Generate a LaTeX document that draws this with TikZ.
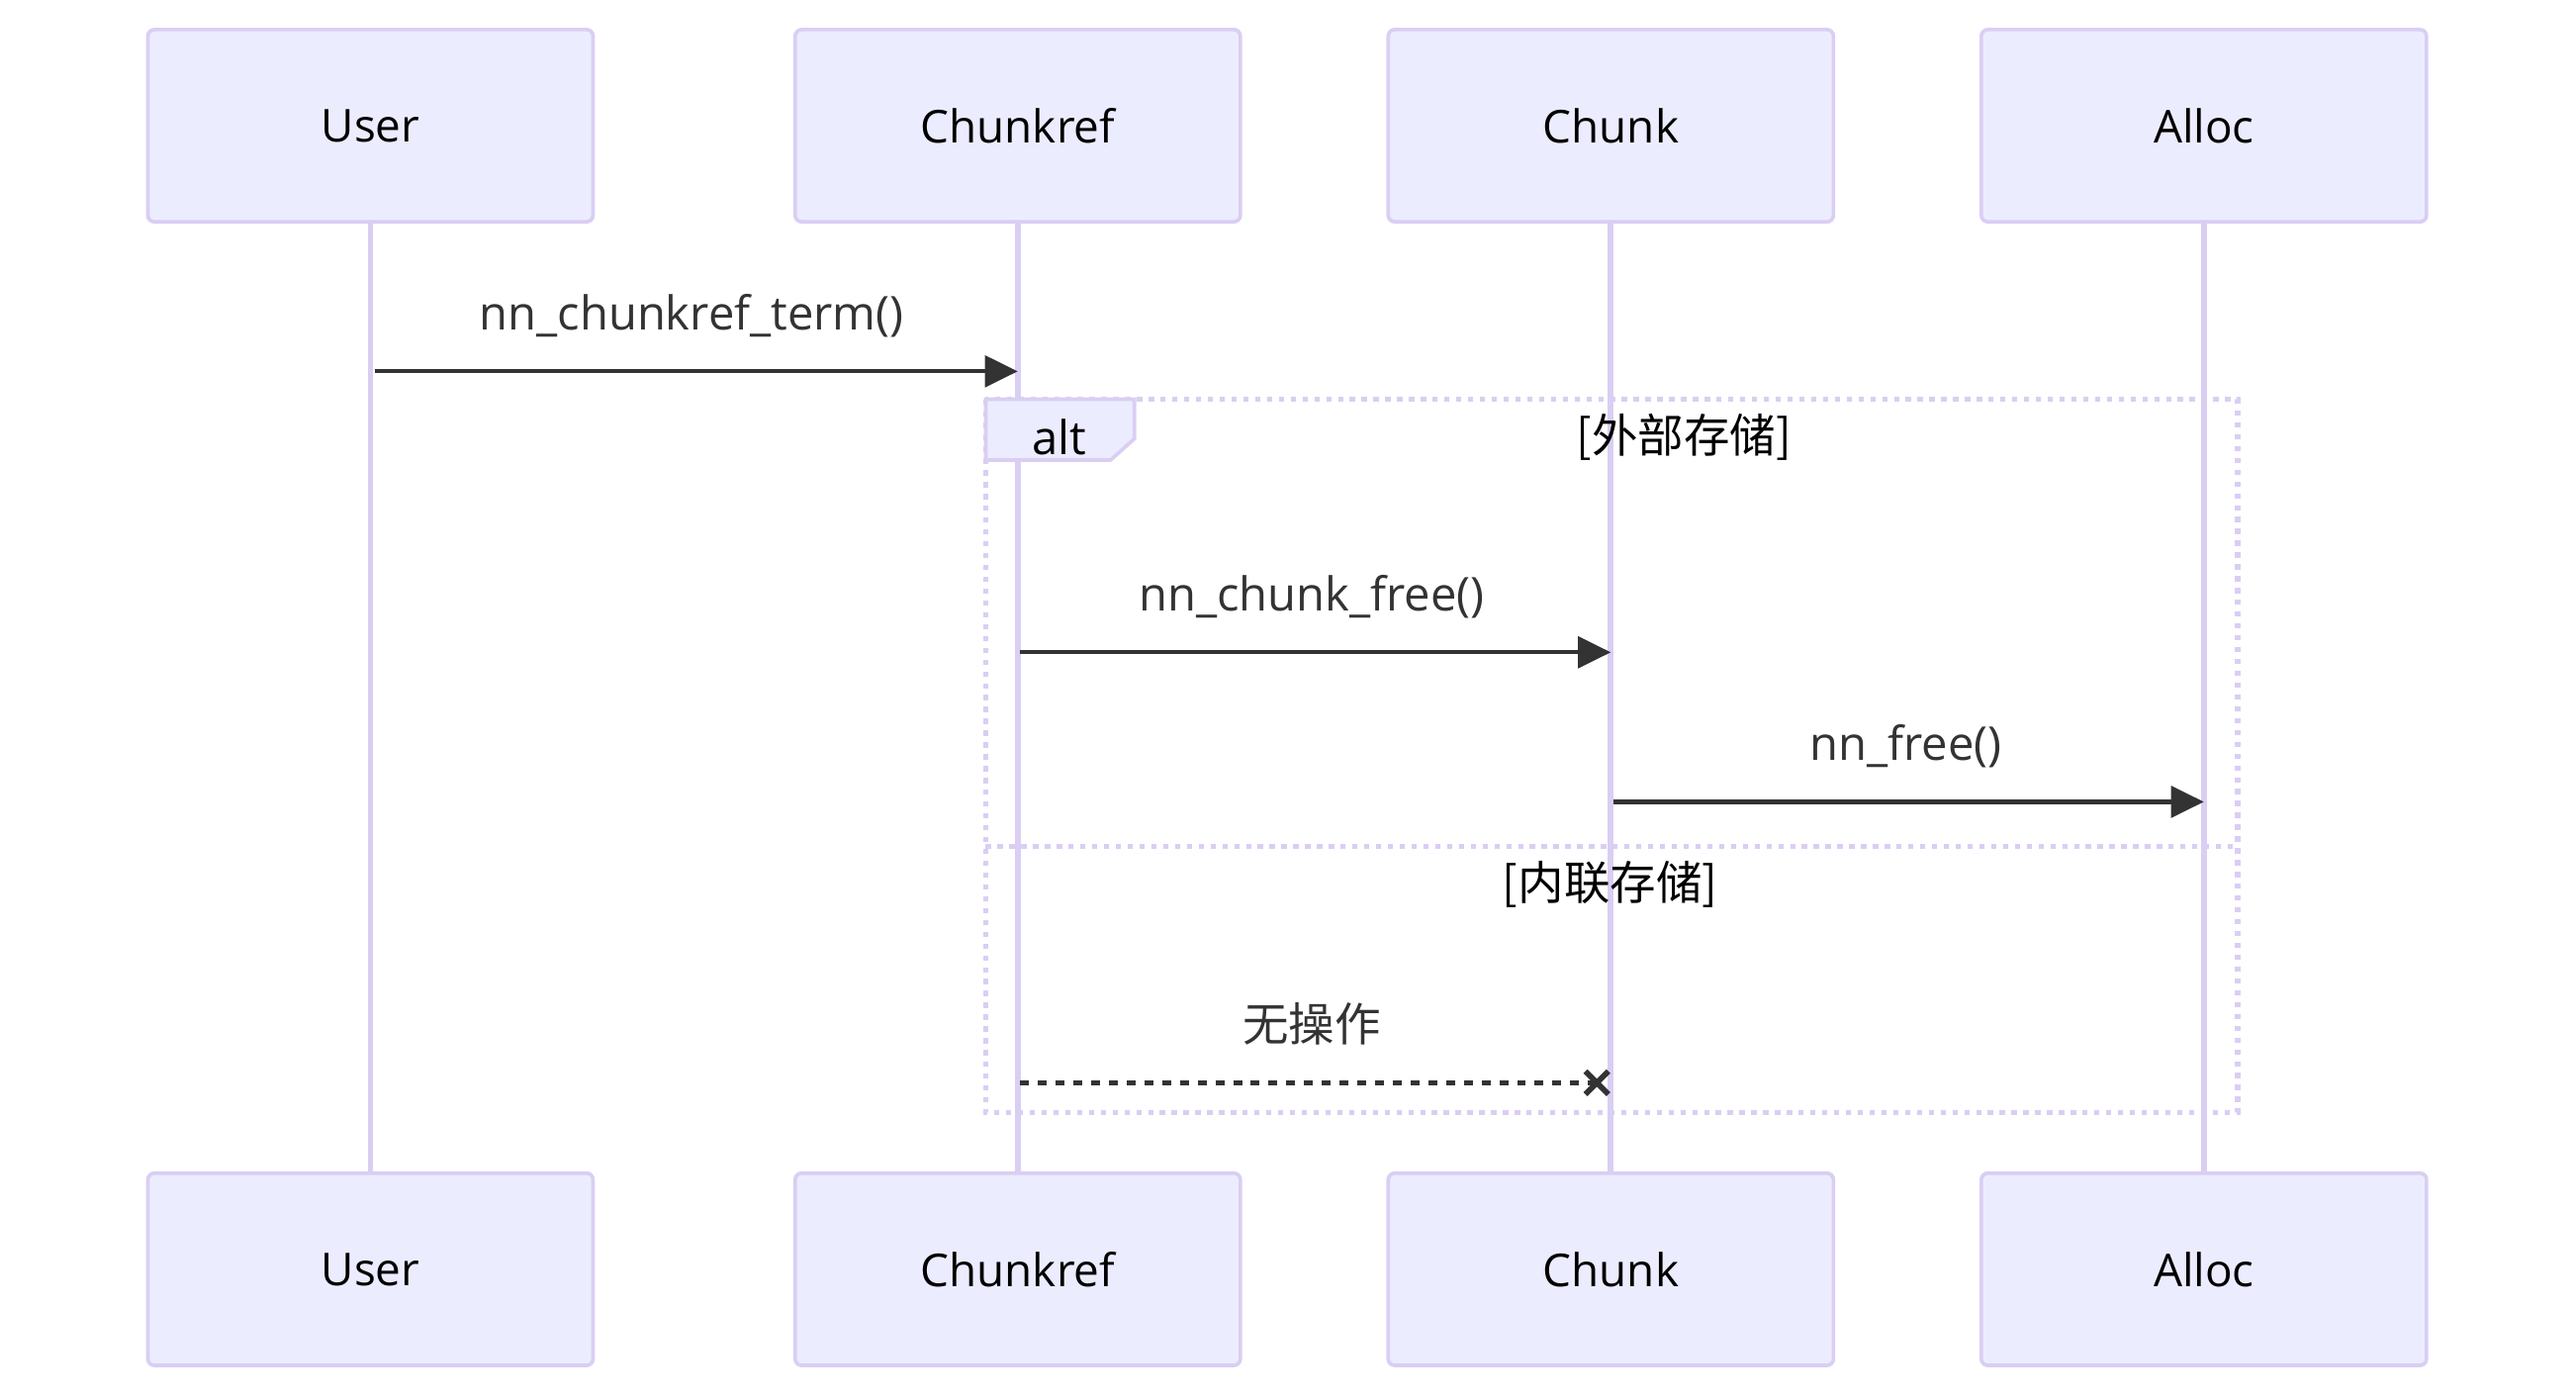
\documentclass[tikz,border=0pt]{standalone}
\usepackage{fontspec}
\setmainfont{Open Sans}
\newfontfamily\cjk{Noto Sans CJK SC}
\usetikzlibrary{arrows.meta,calc,backgrounds}
\definecolor{actfill}{HTML}{ECECFF}
\definecolor{actline}{RGB}{218,206,243}
\definecolor{msg}{HTML}{333333}
\tikzset{
  actor/.style={draw=actline, fill=actfill, line width=1.1pt, rounded corners=2pt,
    minimum width=135.5pt, minimum height=58.5pt, inner sep=0pt,
    font=\fontsize{13.8pt}{16pt}\selectfont, text=black},
  lifeline/.style={draw=actline, line width=1.8pt},
  msgarrow/.style={draw=msg, line width=1.3pt, -{Triangle[length=10pt,width=9.5pt]}},
  replyx/.style={draw=msg, line width=1.3pt, dash pattern=on 2.7pt off 2.7pt},
  msglabel/.style={font=\fontsize{14.2pt}{16pt}\selectfont, text=msg, inner sep=0pt},
  altline/.style={draw=actline, line width=1.6pt, dash pattern=on 1.6pt off 2pt},
  cond/.style={font=\cjk\fontsize{14pt}{16pt}\selectfont, text=black, inner sep=0pt},
}
\begin{document}
\begin{tikzpicture}[x=0.5pt, y=-0.5pt]
\useasboundingbox (0,0) rectangle (1568,851);
\node[actor] (ut) at (225.5,76.5) {User};
\node[actor] (ct) at (619.5,76.5) {Chunkref};
\node[actor] (kt) at (980.5,76.5) {Chunk};
\node[actor] (at) at (1341.5,76.5) {Alloc};
\node[actor] (ub) at (225.5,772.5) {User};
\node[actor] (cb) at (619.5,772.5) {Chunkref};
\node[actor] (kb) at (980.5,772.5) {Chunk};
\node[actor] (ab) at (1341.5,772.5) {Alloc};
\begin{pgfonlayer}{background}
\draw[altline] (600,243) rectangle (1362,677);
\draw[altline] (600,515) -- (1362,515);
\path[lifeline] (ut.south) -- (ub.north);
\path[lifeline] (ct.south) -- (cb.north);
\path[lifeline] (kt.south) -- (kb.north);
\path[lifeline] (at.south) -- (ab.north);
\end{pgfonlayer}
% alt label
\draw[draw=actline, fill=actfill, line width=1.1pt] (600,243) -- (690.5,243) -- (690.5,267) -- (676,280) -- (600,280) -- cycle;
\node[msglabel, text=black] (alt) at (645,266) {alt};
\node[cond] (c1) at (1025,266) {[外部存储]};
\node[cond] (c2) at (980,538) {[内联存储]};
% message coordinates
\coordinate (m1s) at (228,226);
\coordinate (m1e) at (619.5,226);
\coordinate (m2s) at (621,397);
\coordinate (m2e) at (980.5,397);
\coordinate (m3s) at (982,488);
\coordinate (m3e) at (1341.5,488);
\coordinate (m4s) at (621,659);
\coordinate (m4e) at (972,659);
\draw[msgarrow] (m1s) -- (m1e);
\node[msglabel] (l1) at (421,192) {nn\_chunkref\_term()};
\draw[msgarrow] (m2s) -- (m2e);
\node[msglabel] (l2) at (798.5,363) {nn\_chunk\_free()};
\draw[msgarrow] (m3s) -- (m3e);
\node[msglabel] (l3) at (1160,454) {nn\_free()};
\draw[replyx] (m4s) -- (m4e);
\draw[draw=msg, line width=1.7pt] ($(m4e)+(-7,-7)$) -- ($(m4e)+(7,7)$) ($(m4e)+(-7,7)$) -- ($(m4e)+(7,-7)$);
\node[msglabel, font=\cjk\fontsize{14pt}{16pt}\selectfont] (l4) at (798.5,623) {无操作};
\end{tikzpicture}
\end{document}
